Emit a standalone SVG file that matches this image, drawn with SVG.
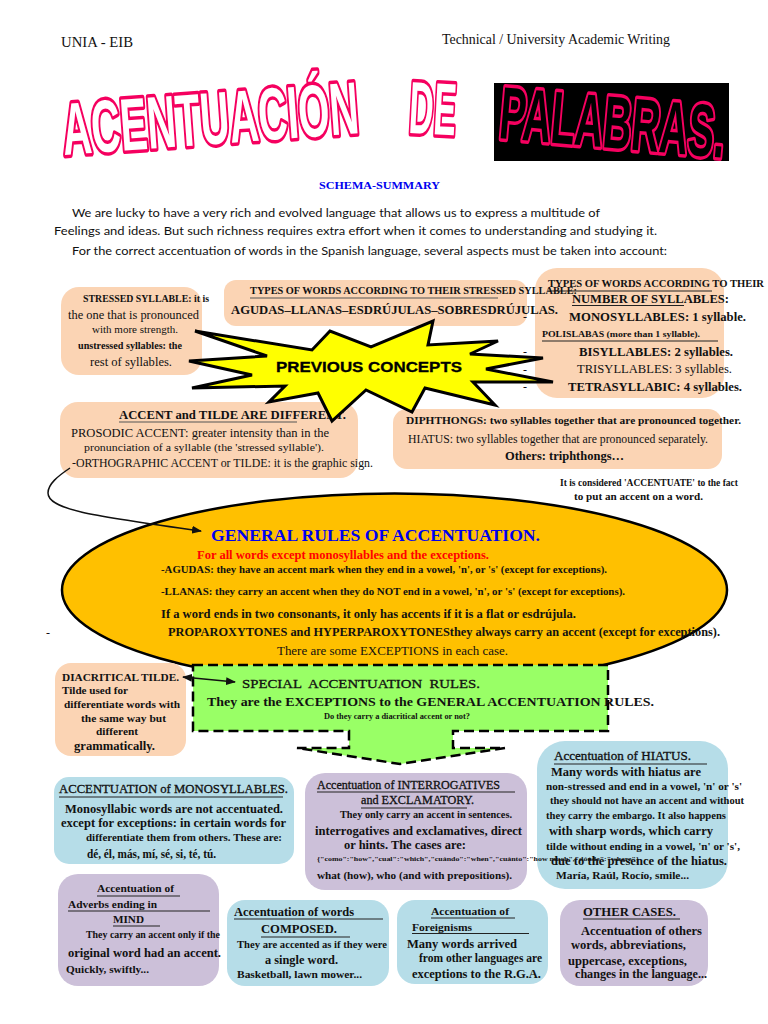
<svg xmlns="http://www.w3.org/2000/svg" width="768" height="1024" viewBox="0 0 768 1024">
<style>
text{font-family:"Liberation Serif","Times New Roman",serif;fill:#111;white-space:pre}
.b{font-weight:bold}
.m{stroke:#111;stroke-width:.3px}
.f7{font-size:7px}.f8{font-size:8px}.f9{font-size:9px}.f10{font-size:10px}.f11{font-size:11px}.f12{font-size:12px}.f13{font-size:13px}.f14{font-size:14px}.f16{font-size:16px}
.peach{fill:#fbd4b4}.blue{fill:#b6dde8}.purple{fill:#ccc0d9}
.ul{stroke:#222;stroke-width:1.2;fill:none}
.intro{font-family:"Lato","Open Sans",sans-serif;font-size:12px}
.title{font-family:"Liberation Sans",Arial,sans-serif;font-weight:bold;font-size:74px;stroke:#f5005f;stroke-width:7px;stroke-linejoin:round;paint-order:stroke}
.dash{font-size:12px}
</style>
<defs>
<marker id="arrow" markerWidth="10" markerHeight="8" refX="9" refY="4" orient="auto-start-reverse" markerUnits="userSpaceOnUse"><path d="M0,0 L10,4 L0,8 Z" fill="#111"/></marker>
</defs>
<rect width="768" height="1024" fill="#fff"/>
<g id="header">
<text class="f14" x="61" y="47" textLength="72" lengthAdjust="spacingAndGlyphs">UNIA - EIB</text>
<text class="f14" x="442" y="44" textLength="228" lengthAdjust="spacingAndGlyphs">Technical / University Academic Writing</text>
</g>
<g id="title">
<text class="title" style="fill:#fff" transform="translate(64,155) rotate(-4.2)" textLength="297" lengthAdjust="spacingAndGlyphs">ACENTUACIÓN</text>
<text class="title" style="fill:#fff" transform="translate(408,133) rotate(3)" textLength="47" lengthAdjust="spacingAndGlyphs">DE</text>
<rect x="494" y="83" width="235" height="78" fill="#000"/>
<text class="title" style="fill:#000" transform="translate(498,138) rotate(5)" textLength="226" lengthAdjust="spacingAndGlyphs">PALABRAS.</text>
</g>
<g id="intro">
<text class="f11 b" x="319" y="189" textLength="121" lengthAdjust="spacingAndGlyphs" style="fill:#0000ee">SCHEMA-SUMMARY</text>
<text class="intro" x="72" y="217" textLength="528" lengthAdjust="spacingAndGlyphs">We are lucky to have a very rich and evolved language that allows us to express a multitude of</text>
<text class="intro" x="54" y="235" textLength="603" lengthAdjust="spacingAndGlyphs">Feelings and ideas. But such richness requires extra effort when it comes to understanding and studying it.</text>
<text class="intro" x="72" y="255" textLength="595" lengthAdjust="spacingAndGlyphs">For the correct accentuation of words in the Spanish language, several aspects must be taken into account:</text>
</g>
<g id="node-stressed-syllable">
<rect class="peach" x="61" y="287" width="141" height="88" rx="18"/>
<text class="f10 b" x="83" y="302" textLength="126" lengthAdjust="spacingAndGlyphs">STRESSED SYLLABLE: it is</text>
<text class="f12" x="68" y="319" textLength="131" lengthAdjust="spacingAndGlyphs">the one that is pronounced</text>
<text class="f11" x="92" y="333" textLength="86" lengthAdjust="spacingAndGlyphs">with more strength.</text>
<text class="f10 b" x="78" y="349" textLength="104" lengthAdjust="spacingAndGlyphs">unstressed syllables: the</text>
<text class="f12" x="90" y="366" textLength="82" lengthAdjust="spacingAndGlyphs">rest of syllables.</text>
</g>
<g id="node-types-syllables">
<rect class="peach" x="535" y="268" width="189" height="130" rx="22"/>
<text class="f11 b" x="548" y="287" textLength="216" lengthAdjust="spacingAndGlyphs">TYPES OF WORDS ACCORDING TO THEIR</text>
<line class="ul" x1="548" y1="291" x2="712" y2="291"/>
<text class="f12 b" x="572" y="303" textLength="157" lengthAdjust="spacingAndGlyphs">NUMBER OF SYLLABLES:</text>
<line class="ul" x1="572" y1="305.500" x2="684" y2="305.500"/>
<text class="f12 b" x="569" y="321" textLength="177" lengthAdjust="spacingAndGlyphs">MONOSYLLABLES: 1 syllable.</text>
<text class="f9 b" x="542" y="337" textLength="158" lengthAdjust="spacingAndGlyphs">POLISLABAS (more than 1 syllable).</text>
<line class="ul" x1="542" y1="341" x2="718" y2="341"/>
<text class="f12 b" x="579" y="356" textLength="154" lengthAdjust="spacingAndGlyphs">BISYLLABLES: 2 syllables.</text>
<text class="f12" x="577" y="373" textLength="155" lengthAdjust="spacingAndGlyphs">TRISYLLABLES: 3 syllables.</text>
<text class="f12 b" x="568" y="391" textLength="174" lengthAdjust="spacingAndGlyphs">TETRASYLLABIC: 4 syllables.</text>
</g>
<g id="node-types-stressed">
<rect class="peach" x="224" y="280" width="303" height="46" rx="12"/>
<text class="f10 b" x="250" y="294" textLength="327" lengthAdjust="spacingAndGlyphs">TYPES OF WORDS ACCORDING TO THEIR STRESSED SYLLABLE:</text>
<line class="ul" x1="250" y1="298" x2="498" y2="298" style="stroke:#555"/>
<text class="f12 b" x="231" y="314" textLength="327" lengthAdjust="spacingAndGlyphs">AGUDAS–LLANAS–ESDRÚJULAS–SOBRESDRÚJULAS.</text>
</g>
<g id="node-accent-tilde">
<rect class="peach" x="60" y="402" width="298" height="76" rx="18"/>
<text class="f12 b" x="119" y="419" textLength="227" lengthAdjust="spacingAndGlyphs">ACCENT and TILDE ARE DIFFERENT.</text>
<line class="ul" x1="119" y1="422" x2="297" y2="422" style="stroke:#555"/>
<text class="f12" x="71" y="437" textLength="258" lengthAdjust="spacingAndGlyphs">PROSODIC ACCENT: greater intensity than in the</text>
<text class="f11" x="84" y="451" textLength="240" lengthAdjust="spacingAndGlyphs">pronunciation of a syllable (the 'stressed syllable').</text>
<text class="f12" x="72" y="467" textLength="301" lengthAdjust="spacingAndGlyphs">-ORTHOGRAPHIC ACCENT or TILDE: it is the graphic sign.</text>
</g>
<g id="node-diphthongs">
<rect class="peach" x="393" y="409" width="329" height="60" rx="14"/>
<text class="f11 b" x="406" y="424" textLength="335" lengthAdjust="spacingAndGlyphs">DIPHTHONGS: two syllables together that are pronounced together.</text>
<text class="f12" x="408" y="443" textLength="300" lengthAdjust="spacingAndGlyphs">HIATUS: two syllables together that are pronounced separately.</text>
<text class="f12 b" x="505" y="460" textLength="119" lengthAdjust="spacingAndGlyphs">Others: triphthongs…</text>
</g>
<g id="node-previous-concepts">
<polygon points="195,331 312,350 330,331 371,347 433,321 428,345 498,341 470,354 543,358 486,369 553,382 473,382 495,405 425,388 412,412 366,390 332,421 318,393 269,402 285,386 192,388 252,375 189,361 267,356" fill="#ffff00" stroke="#000" stroke-width="3" stroke-linejoin="miter"/>
<text x="276" y="372" textLength="186" lengthAdjust="spacingAndGlyphs" style="font-family:'Liberation Sans',Arial,sans-serif;font-weight:bold;font-size:15px;fill:#000;stroke:#000;stroke-width:.3px">PREVIOUS CONCEPTS</text>
</g>
<g id="dashes">
<text class="dash" x="523" y="321">-</text>
<text class="dash" x="523" y="356">-</text>
<text class="dash" x="523" y="374">-</text>
<text class="dash" x="523" y="391">-</text>
<text class="dash" x="46" y="637">-</text>
</g>
<g id="node-considered">
<text class="f10 b" x="560" y="486" textLength="178" lengthAdjust="spacingAndGlyphs">It is considered 'ACCENTUATE' to the fact</text>
<text class="f11 b" x="574" y="500" textLength="129" lengthAdjust="spacingAndGlyphs">to put an accent on a word.</text>
</g>
<g id="node-general-rules">
<ellipse cx="394.500" cy="590" rx="332.500" ry="96.500" fill="#ffc000" stroke="#000" stroke-width="2.500"/>
<text class="f16 b" x="211" y="541" textLength="329" lengthAdjust="spacingAndGlyphs" style="fill:#0000ee">GENERAL RULES OF ACCENTUATION.</text>
<text class="f12 b" x="197" y="559" textLength="292" lengthAdjust="spacingAndGlyphs" style="fill:#ff0000">For all words except monosyllables and the exceptions.</text>
<text class="f11 b" x="161" y="573" textLength="446" lengthAdjust="spacingAndGlyphs">-AGUDAS: they have an accent mark when they end in a vowel, 'n', or 's' (except for exceptions).</text>
<text class="f11 b" x="161" y="595" textLength="464" lengthAdjust="spacingAndGlyphs">-LLANAS: they carry an accent when they do NOT end in a vowel, 'n', or 's' (except for exceptions).</text>
<text class="f12 b" x="161" y="618" textLength="415" lengthAdjust="spacingAndGlyphs">If a word ends in two consonants, it only has accents if it is a flat or esdrújula.</text>
<text class="f12 b" x="168" y="636" textLength="552" lengthAdjust="spacingAndGlyphs">PROPAROXYTONES and HYPERPAROXYTONESthey always carry an accent (except for exceptions).</text>
<text class="f12" x="277" y="655" textLength="231" lengthAdjust="spacingAndGlyphs">There are some EXCEPTIONS in each case.</text>
</g>
<g id="node-diacritical">
<rect class="peach" x="55" y="663" width="131" height="93" rx="16"/>
<text class="f11 b" x="62" y="681" textLength="117" lengthAdjust="spacingAndGlyphs">DIACRITICAL TILDE.</text>
<text class="f11 b" x="62" y="694" textLength="66" lengthAdjust="spacingAndGlyphs">Tilde used for</text>
<text class="f11 b" x="64" y="708" textLength="116" lengthAdjust="spacingAndGlyphs">differentiate words with</text>
<text class="f11 b" x="81" y="722" textLength="85" lengthAdjust="spacingAndGlyphs">the same way but</text>
<text class="f11 b" x="96" y="735" textLength="42" lengthAdjust="spacingAndGlyphs">different</text>
<text class="f12 b" x="74" y="750" textLength="81" lengthAdjust="spacingAndGlyphs">grammatically.</text>
</g>
<g id="node-special-rules">
<path d="M193,665 H608 V731 H453 V748 H505 L400,764 L297,748 H349 V731 H193 Z" fill="#99ff66" stroke="#000" stroke-width="2.500" stroke-dasharray="10 5"/>
<text class="f13 m" x="242" y="688" textLength="238" lengthAdjust="spacingAndGlyphs">SPECIAL  ACCENTUATION  RULES.</text>
<text class="f13 b" x="207" y="706" textLength="447" lengthAdjust="spacingAndGlyphs">They are the EXCEPTIONS to the GENERAL ACCENTUATION RULES.</text>
<text class="f8 b" x="324" y="719" textLength="146" lengthAdjust="spacingAndGlyphs">Do they carry a diacritical accent or not?</text>
</g>
<g id="node-monosyllables">
<rect class="blue" x="54" y="777" width="240" height="87" rx="15"/>
<text class="f12 m" x="59" y="793" textLength="229" lengthAdjust="spacingAndGlyphs">ACCENTUATION of MONOSYLLABLES.</text>
<line class="ul" x1="59" y1="797" x2="283" y2="797"/>
<text class="f12 b" x="65" y="813" textLength="218" lengthAdjust="spacingAndGlyphs">Monosyllabic words are not accentuated.</text>
<text class="f12 b" x="61" y="827" textLength="225" lengthAdjust="spacingAndGlyphs">except for exceptions: in certain words for</text>
<text class="f11 b" x="86" y="841" textLength="196" lengthAdjust="spacingAndGlyphs">differentiate them from others. These are:</text>
<text class="f12 b" x="87" y="858" textLength="129" lengthAdjust="spacingAndGlyphs">dé, él, más, mí, sé, si, té, tú.</text>
</g>
<g id="node-hiatus">
<rect class="blue" x="537" y="741" width="191" height="148" rx="28"/>
<text class="f12 m" x="554" y="760" textLength="137" lengthAdjust="spacingAndGlyphs">Accentuation of HIATUS.</text>
<line class="ul" x1="554" y1="764" x2="707" y2="764"/>
<text class="f12 b" x="551" y="776" textLength="150" lengthAdjust="spacingAndGlyphs">Many words with hiatus are</text>
<text class="f11 b" x="546" y="790" textLength="196" lengthAdjust="spacingAndGlyphs">non-stressed and end in a vowel, 'n' or 's'</text>
<text class="f11 b" x="550" y="804" textLength="194" lengthAdjust="spacingAndGlyphs">they should not have an accent and without</text>
<text class="f11 b" x="546" y="819" textLength="180" lengthAdjust="spacingAndGlyphs">they carry the embargo. It also happens</text>
<text class="f12 b" x="549" y="835" textLength="164" lengthAdjust="spacingAndGlyphs">with sharp words, which carry</text>
<text class="f11 b" x="546" y="850" textLength="194" lengthAdjust="spacingAndGlyphs">tilde without ending in a vowel, 'n' or 's',</text>
<text class="f12 b" x="551" y="865" textLength="176" lengthAdjust="spacingAndGlyphs">due to the presence of the hiatus.</text>
<text class="f11 b" x="556" y="879" textLength="133" lengthAdjust="spacingAndGlyphs">María, Raúl, Rocío, smile...</text>
</g>
<g id="node-interrogatives">
<rect class="purple" x="305" y="773" width="222" height="117" rx="20"/>
<text class="f12 m" x="317" y="789" textLength="183" lengthAdjust="spacingAndGlyphs">Accentuation of INTERROGATIVES</text>
<line class="ul" x1="317" y1="792" x2="515" y2="792"/>
<text class="f12 m" x="361" y="804" textLength="113" lengthAdjust="spacingAndGlyphs">and EXCLAMATORY.</text>
<line class="ul" x1="361" y1="808" x2="467" y2="808"/>
<text class="f10 b" x="340" y="818" textLength="172" lengthAdjust="spacingAndGlyphs">They only carry an accent in sentences.</text>
<text class="f12 b" x="315" y="835" textLength="207" lengthAdjust="spacingAndGlyphs">interrogatives and exclamatives, direct</text>
<text class="f12 b" x="344" y="849" textLength="122" lengthAdjust="spacingAndGlyphs">or hints. The cases are:</text>
<text class="f7 b" x="317" y="861" textLength="322" lengthAdjust="spacingAndGlyphs">{"como":"how","cual":"which","cuándo":"when","cuánto":"how much","dónde":"where"}</text>
<text class="f11 b" x="317" y="879" textLength="195" lengthAdjust="spacingAndGlyphs">what (how), who (and with prepositions).</text>
</g>
<g id="node-adverbs">
<rect class="purple" x="58" y="874" width="161" height="112" rx="20"/>
<text class="f11 b" x="97" y="892" textLength="77" lengthAdjust="spacingAndGlyphs">Accentuation of</text>
<line class="ul" x1="97" y1="896" x2="180" y2="896"/>
<text class="f11 b" x="68" y="908" textLength="89" lengthAdjust="spacingAndGlyphs">Adverbs ending in</text>
<line class="ul" x1="68" y1="911" x2="210" y2="911"/>
<text class="f11 b" x="113" y="923" textLength="31" lengthAdjust="spacingAndGlyphs">MIND</text>
<line class="ul" x1="113" y1="926" x2="160" y2="926"/>
<text class="f10 b" x="86" y="938" textLength="134" lengthAdjust="spacingAndGlyphs">They carry an accent only if the</text>
<text class="f12 b" x="68" y="957" textLength="153" lengthAdjust="spacingAndGlyphs">original word had an accent.</text>
<text class="f11 b" x="66" y="973" textLength="83" lengthAdjust="spacingAndGlyphs">Quickly, swiftly...</text>
</g>
<g id="node-composed">
<rect class="blue" x="227" y="900" width="162" height="86" rx="18"/>
<text class="f12 b" x="234" y="916" textLength="120" lengthAdjust="spacingAndGlyphs">Accentuation of words</text>
<line class="ul" x1="234" y1="919" x2="383" y2="919"/>
<text class="f12 b" x="261" y="933" textLength="76" lengthAdjust="spacingAndGlyphs">COMPOSED.</text>
<line class="ul" x1="261" y1="937" x2="350" y2="937"/>
<text class="f11 b" x="237" y="948" textLength="150" lengthAdjust="spacingAndGlyphs">They are accented as if they were</text>
<text class="f12 b" x="265" y="964" textLength="73" lengthAdjust="spacingAndGlyphs">a single word.</text>
<text class="f11 b" x="237" y="978" textLength="125" lengthAdjust="spacingAndGlyphs">Basketball, lawn mower...</text>
</g>
<g id="node-foreignisms">
<rect class="blue" x="397" y="900" width="151" height="84" rx="18"/>
<text class="f11 b" x="431" y="915" textLength="78" lengthAdjust="spacingAndGlyphs">Accentuation of</text>
<line class="ul" x1="431" y1="918" x2="515" y2="918"/>
<text class="f11 b" x="412" y="931" textLength="60" lengthAdjust="spacingAndGlyphs">Foreignisms</text>
<line class="ul" x1="412" y1="933.500" x2="529" y2="933.500"/>
<text class="f13 b" x="407" y="948" textLength="110" lengthAdjust="spacingAndGlyphs">Many words arrived</text>
<text class="f12 b" x="419" y="962" textLength="123" lengthAdjust="spacingAndGlyphs">from other languages are</text>
<text class="f13 b" x="412" y="978" textLength="129" lengthAdjust="spacingAndGlyphs">exceptions to the R.G.A.</text>
</g>
<g id="node-other-cases">
<rect class="purple" x="560" y="900" width="148" height="86" rx="20"/>
<text class="f12 b" x="583" y="916" textLength="93" lengthAdjust="spacingAndGlyphs">OTHER CASES.</text>
<line class="ul" x1="583" y1="919" x2="680" y2="919"/>
<text class="f12 b" x="581" y="935" textLength="121" lengthAdjust="spacingAndGlyphs">Accentuation of others</text>
<text class="f12 b" x="571" y="949" textLength="115" lengthAdjust="spacingAndGlyphs">words, abbreviations,</text>
<text class="f12 b" x="568" y="965" textLength="119" lengthAdjust="spacingAndGlyphs">uppercase, exceptions,</text>
<text class="f12 b" x="575" y="978" textLength="132" lengthAdjust="spacingAndGlyphs">changes in the language...</text>
</g>
<g id="connectors" fill="none" stroke="#111" stroke-width="1.500">
<path d="M70,468 C58,476 48,484 48,493 C48,510 95,516 201,531" marker-end="url(#arrow)"/>
<path d="M183,677 L235,682" marker-start="url(#arrow)" marker-end="url(#arrow)"/>
</g>
</svg>
